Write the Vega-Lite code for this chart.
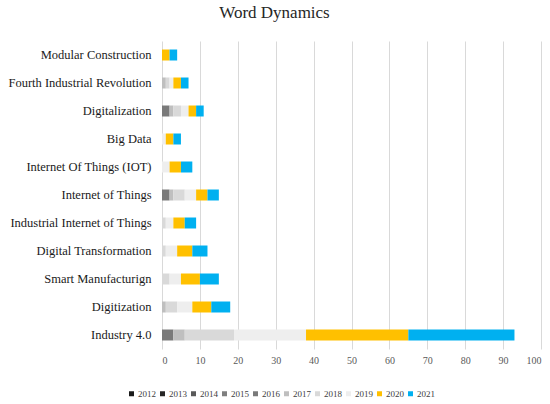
{
  "$schema": "https://vega.github.io/schema/vega-lite/v6.json",
  "autosize": {"type": "none"},
  "padding": {"left": 162, "top": 41, "right": 9, "bottom": 55},
  "width": 379,
  "height": 308,
  "title": {
    "text": "Word Dynamics",
    "frame": "bounds",
    "anchor": "middle",
    "offset": 19,
    "font": "Liberation Serif",
    "fontSize": 17,
    "fontWeight": "normal",
    "color": "#262626"
  },
  "config": {
    "view": {"stroke": null},
    "font": "Liberation Serif"
  },
  "data": {
    "values": [
      {"term": "Modular Construction", "year": "2020", "count": 2},
      {"term": "Modular Construction", "year": "2021", "count": 2},
      {"term": "Fourth Industrial Revolution", "year": "2017", "count": 1},
      {"term": "Fourth Industrial Revolution", "year": "2018", "count": 1},
      {"term": "Fourth Industrial Revolution", "year": "2019", "count": 1},
      {"term": "Fourth Industrial Revolution", "year": "2020", "count": 2},
      {"term": "Fourth Industrial Revolution", "year": "2021", "count": 2},
      {"term": "Digitalization", "year": "2016", "count": 2},
      {"term": "Digitalization", "year": "2017", "count": 1},
      {"term": "Digitalization", "year": "2018", "count": 2},
      {"term": "Digitalization", "year": "2019", "count": 2},
      {"term": "Digitalization", "year": "2020", "count": 2},
      {"term": "Digitalization", "year": "2021", "count": 2},
      {"term": "Big Data", "year": "2019", "count": 1},
      {"term": "Big Data", "year": "2020", "count": 2},
      {"term": "Big Data", "year": "2021", "count": 2},
      {"term": "Internet Of Things (IOT)", "year": "2019", "count": 2},
      {"term": "Internet Of Things (IOT)", "year": "2020", "count": 3},
      {"term": "Internet Of Things (IOT)", "year": "2021", "count": 3},
      {"term": "Internet of Things", "year": "2016", "count": 2},
      {"term": "Internet of Things", "year": "2017", "count": 1},
      {"term": "Internet of Things", "year": "2018", "count": 3},
      {"term": "Internet of Things", "year": "2019", "count": 3},
      {"term": "Internet of Things", "year": "2020", "count": 3},
      {"term": "Internet of Things", "year": "2021", "count": 3},
      {"term": "Industrial Internet of Things", "year": "2018", "count": 1},
      {"term": "Industrial Internet of Things", "year": "2019", "count": 2},
      {"term": "Industrial Internet of Things", "year": "2020", "count": 3},
      {"term": "Industrial Internet of Things", "year": "2021", "count": 3},
      {"term": "Digital Transformation", "year": "2018", "count": 1},
      {"term": "Digital Transformation", "year": "2019", "count": 3},
      {"term": "Digital Transformation", "year": "2020", "count": 4},
      {"term": "Digital Transformation", "year": "2021", "count": 4},
      {"term": "Smart Manufacturign", "year": "2018", "count": 2},
      {"term": "Smart Manufacturign", "year": "2019", "count": 3},
      {"term": "Smart Manufacturign", "year": "2020", "count": 5},
      {"term": "Smart Manufacturign", "year": "2021", "count": 5},
      {"term": "Digitization", "year": "2017", "count": 1},
      {"term": "Digitization", "year": "2018", "count": 3},
      {"term": "Digitization", "year": "2019", "count": 4},
      {"term": "Digitization", "year": "2020", "count": 5},
      {"term": "Digitization", "year": "2021", "count": 5},
      {"term": "Industry 4.0", "year": "2016", "count": 3},
      {"term": "Industry 4.0", "year": "2017", "count": 3},
      {"term": "Industry 4.0", "year": "2018", "count": 13},
      {"term": "Industry 4.0", "year": "2019", "count": 19},
      {"term": "Industry 4.0", "year": "2020", "count": 27},
      {"term": "Industry 4.0", "year": "2021", "count": 28}
    ]
  },
  "mark": {"type": "bar", "size": 11},
  "encoding": {
    "y": {
      "field": "term",
      "type": "nominal",
      "sort": [
        "Modular Construction",
        "Fourth Industrial Revolution",
        "Digitalization",
        "Big Data",
        "Internet Of Things (IOT)",
        "Internet of Things",
        "Industrial Internet of Things",
        "Digital Transformation",
        "Smart Manufacturign",
        "Digitization",
        "Industry 4.0"
      ],
      "axis": {
        "title": null,
        "ticks": false,
        "domain": false,
        "labelPadding": 11,
        "labelFontSize": 12.5,
        "labelColor": "#1a1a1a",
        "labelFont": "Liberation Serif"
      }
    },
    "x": {
      "field": "count",
      "type": "quantitative",
      "stack": "zero",
      "scale": {"domain": [0, 100], "nice": false},
      "axis": {
        "title": null,
        "values": [0, 10, 20, 30, 40, 50, 60, 70, 80, 90, 100],
        "ticks": false,
        "domain": false,
        "grid": true,
        "gridColor": "#d9d9d9",
        "gridWidth": 1,
        "labelPadding": 6,
        "labelFontSize": 10,
        "labelColor": "#595959",
        "labelFont": "Liberation Serif"
      }
    },
    "color": {
      "field": "year",
      "type": "nominal",
      "scale": {
        "domain": ["2012", "2013", "2014", "2015", "2016", "2017", "2018", "2019", "2020", "2021"],
        "range": ["#1a1a1a", "#262626", "#595959", "#7f7f7f", "#7a7a7a", "#bfbfbf", "#d9d9d9", "#eeeeee", "#ffc000", "#00b0f0"]
      },
      "legend": {
        "title": null,
        "orient": "none",
        "legendX": -35,
        "legendY": 348,
        "direction": "horizontal",
        "columns": 10,
        "columnPadding": 2,
        "symbolType": "square",
        "symbolSize": 25,
        "symbolStrokeWidth": 0,
        "labelOffset": 2,
        "labelFontSize": 9,
        "labelColor": "#404040",
        "labelFont": "Liberation Serif"
      }
    },
    "order": {"field": "year", "type": "ordinal", "sort": "ascending"}
  }
}
